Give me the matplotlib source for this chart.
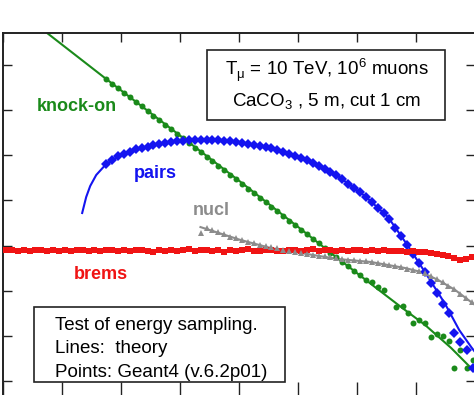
import matplotlib
matplotlib.use("Agg")
import matplotlib.pyplot as plt
from matplotlib.patches import Rectangle

plt.rcParams['font.family'] = ['Liberation Sans', 'DejaVu Sans']
plt.rcParams['mathtext.fontset'] = 'custom'
plt.rcParams['mathtext.rm'] = 'Liberation Sans'

# ---------------- data (arbitrary axis units, log-like scales) ----------------
# knock-on (green)
knock_line_x = [0.748, 1.750, 2.838, 4.027, 5.047, 5.624, 6.304, 6.746, 7.154, 7.596, 8.0]
knock_line_y = [7.709, 6.690, 5.600, 4.410, 3.366, 2.769, 2.082, 1.639, 1.241, 0.731, 0.199]
knock_pts_x = [1.75, 1.85, 1.95, 2.05, 2.15, 2.25, 2.35, 2.45, 2.55, 2.65,
               2.75, 2.85, 2.95, 3.05, 3.15, 3.25, 3.35, 3.45, 3.55, 3.65,
               3.75, 3.85, 3.95, 4.05, 4.15, 4.25, 4.35, 4.45, 4.55, 4.65,
               4.75, 4.85, 4.95, 5.05, 5.15, 5.25, 5.35, 5.45, 5.55, 5.65,
               5.75, 5.85, 5.95, 6.05, 6.15, 6.25, 6.35, 6.46,
               6.66, 6.78, 6.87, 6.95, 7.05, 7.15, 7.26, 7.36, 7.46, 7.56,
               7.65, 7.75, 7.87, 7.97]
knock_pts_y = [6.69, 6.59, 6.49, 6.39, 6.29, 6.19, 6.09, 5.98, 5.88, 5.78,
               5.68, 5.58, 5.48, 5.38, 5.28, 5.17, 5.07, 4.97, 4.87, 4.77,
               4.67, 4.57, 4.47, 4.36, 4.26, 4.16, 4.06, 3.96, 3.86, 3.76,
               3.65, 3.55, 3.45, 3.35, 3.25, 3.15, 3.05, 2.95, 2.84, 2.74,
               2.64, 2.54, 2.44, 2.34, 2.24, 2.19, 2.08, 2.02,
               1.64, 1.66, 1.51, 1.29, 1.35, 1.29, 0.98, 1.04, 1.00, 0.89,
               0.29, 0.69, 0.29, 0.47]

# pairs (blue)
pairs_line_x = [1.342, 1.410, 1.478, 1.580, 1.750, 1.988, 2.328, 2.838, 3.347, 3.976,
                4.537, 5.115, 5.675, 6.134, 6.525, 6.865, 7.205, 7.494, 7.732, 7.935, 8.0]
pairs_line_y = [3.722, 4.076, 4.320, 4.564, 4.808, 5.007, 5.162, 5.295, 5.339, 5.295,
                5.162, 4.918, 4.541, 4.098, 3.633, 2.991, 2.304, 1.706, 1.130, 0.753, 0.642]
pairs_pts_x = [1.75, 1.85, 1.95, 2.05, 2.15, 2.25, 2.35, 2.45, 2.55, 2.65,
               2.75, 2.85, 2.95, 3.05, 3.15, 3.25, 3.35, 3.45, 3.55, 3.65,
               3.75, 3.85, 3.95, 4.05, 4.15, 4.25, 4.35, 4.45, 4.55, 4.65,
               4.75, 4.85, 4.95, 5.05, 5.15, 5.25, 5.35, 5.45, 5.55, 5.65,
               5.75, 5.85, 5.95, 6.05, 6.15, 6.25, 6.35, 6.45, 6.55, 6.65,
               6.75, 6.85, 6.95, 7.05, 7.15, 7.26, 7.36, 7.46, 7.56, 7.65,
               7.75, 7.87, 7.97]
pairs_pts_y = [4.81, 4.90, 4.98, 5.03, 5.08, 5.13, 5.16, 5.19, 5.22, 5.25,
               5.27, 5.29, 5.31, 5.32, 5.33, 5.34, 5.34, 5.34, 5.34, 5.33,
               5.32, 5.31, 5.30, 5.28, 5.25, 5.23, 5.21, 5.18, 5.16, 5.11,
               5.07, 5.03, 4.99, 4.95, 4.89, 4.83, 4.76, 4.69, 4.62, 4.56,
               4.47, 4.37, 4.28, 4.18, 4.08, 3.96, 3.84, 3.72, 3.59, 3.40,
               3.21, 3.02, 2.82, 2.61, 2.41, 2.17, 1.95, 1.71, 1.51, 1.06,
               0.86, 0.69, 0.29]

# brems (red)
brems_line_x = [0.0, 6.0, 6.8, 7.3, 7.7, 8.0]
brems_line_y = [2.90, 2.90, 2.86, 2.80, 2.71, 2.74]
brems_pts_x = [0.05, 0.15, 0.25, 0.35, 0.45, 0.55, 0.65, 0.75, 0.85, 0.95,
               1.05, 1.15, 1.25, 1.35, 1.45, 1.55, 1.65, 1.75, 1.85, 1.95,
               2.05, 2.15, 2.25, 2.35, 2.45, 2.55, 2.65, 2.75, 2.85, 2.95,
               3.05, 3.15, 3.25, 3.35, 3.45, 3.55, 3.65, 3.75, 3.85, 3.95,
               4.05, 4.15, 4.25, 4.35, 4.45, 4.55, 4.65, 4.75, 4.85, 4.95,
               5.05, 5.15, 5.25, 5.35, 5.45, 5.55, 5.65, 5.75, 5.85, 5.95,
               6.05, 6.15, 6.25, 6.35, 6.45, 6.55, 6.65, 6.75, 6.85, 6.95,
               7.05, 7.15, 7.25, 7.35, 7.45, 7.55, 7.65, 7.75, 7.85, 7.95]
brems_pts_y = [2.90, 2.91, 2.88, 2.90, 2.89, 2.90, 2.91, 2.89, 2.90, 2.88,
               2.90, 2.89, 2.91, 2.90, 2.89, 2.90, 2.88, 2.90, 2.91, 2.89,
               2.90, 2.88, 2.90, 2.91, 2.89, 2.86, 2.90, 2.88, 2.91, 2.89,
               2.90, 2.93, 2.89, 2.90, 2.91, 2.88, 2.90, 2.86, 2.91, 2.89,
               2.90, 2.92, 2.89, 2.88, 2.90, 2.91, 2.89, 2.88, 2.90, 2.91,
               2.89, 2.90, 2.92, 2.89, 2.90, 2.91, 2.88, 2.90, 2.89, 2.91,
               2.90, 2.88, 2.90, 2.89, 2.91, 2.88, 2.87, 2.89, 2.86, 2.88,
               2.86, 2.85, 2.84, 2.82, 2.80, 2.76, 2.72, 2.68, 2.71, 2.74]

# nucl (gray)
nucl_line_x = [3.347, 4.027, 4.537, 5.047, 5.675, 6.236, 6.814, 7.086, 7.375, 7.664, 8.0]
nucl_line_y = [3.410, 3.124, 2.946, 2.836, 2.703, 2.636, 2.503, 2.415, 2.238, 2.016, 1.684]
nucl_pts_x = [3.35, 3.45, 3.55, 3.65, 3.75, 3.85, 3.95, 4.05, 4.15, 4.25,
              4.35, 4.45, 4.55, 4.65, 4.75, 4.85, 4.95, 5.05, 5.15, 5.25,
              5.35, 5.45, 5.55, 5.65, 5.75, 5.85, 5.95, 6.05, 6.15, 6.25,
              6.35, 6.45, 6.55, 6.65, 6.75, 6.85, 6.95, 7.05, 7.15, 7.25,
              7.35, 7.45, 7.55, 7.65, 7.75, 7.85, 7.95]
nucl_pts_y = [3.28, 3.38, 3.34, 3.30, 3.25, 3.20, 3.16, 3.12, 3.08, 3.05,
              3.02, 2.99, 2.96, 2.94, 2.91, 2.88, 2.86, 2.84, 2.82, 2.80,
              2.78, 2.76, 2.74, 2.72, 2.70, 2.69, 2.68, 2.66, 2.65, 2.63,
              2.61, 2.60, 2.58, 2.55, 2.52, 2.49, 2.46, 2.43, 2.39, 2.33,
              2.26, 2.19, 2.11, 2.03, 1.93, 1.84, 1.74]

x_ticks = [0, 1, 2, 3, 4, 5, 6, 7, 8]
y_ticks = [0, 1, 2, 3, 4, 5, 6, 7]

GREEN = '#1a8a1a'
BLUE = '#1414f0'
RED = '#f01414'
GRAY = '#8c8c8c'

# ---------------- figure ----------------
fig = plt.figure(figsize=(4.74, 3.95), dpi=100)
ax = fig.add_axes([3 / 474, -3 / 395, 472 / 474, 365 / 395])
ax.set_xlim(0, 8)
ax.set_ylim(-0.377, 7.71)

lw = 1.5
ax.plot(knock_line_x, knock_line_y, color=GREEN, lw=lw, zorder=2)
ax.plot(pairs_line_x, pairs_line_y, color=BLUE, lw=lw, zorder=2)
ax.plot(brems_line_x, brems_line_y, color=RED, lw=lw, zorder=2)
ax.plot(nucl_line_x, nucl_line_y, color=GRAY, lw=lw, zorder=2)

ax.plot(knock_pts_x, knock_pts_y, 'o', color=GREEN, ms=4.3, mew=0, zorder=3)
ax.plot(pairs_pts_x, pairs_pts_y, 'D', color=BLUE, ms=4.6, mew=0, zorder=3)
ax.plot(brems_pts_x, brems_pts_y, 's', color=RED, ms=3.9, mew=0, zorder=3)
ax.plot(nucl_pts_x, nucl_pts_y, '^', color=GRAY, ms=4.8, mew=0, zorder=3)

# curve labels
ax.text(0.578, 5.98, 'knock-on', color=GREEN, fontsize=13, fontweight='bold', va='baseline')
ax.text(2.209, 4.50, 'pairs', color=BLUE, fontsize=13, fontweight='bold', va='baseline')
ax.text(3.212, 3.68, 'nucl', color=GRAY, fontsize=13, fontweight='bold', va='baseline')
ax.text(1.206, 2.27, 'brems', color=RED, fontsize=13, fontweight='bold', va='baseline')

# top-right info box
ax.add_patch(Rectangle((3.458, 5.782), 4.034, 1.551, facecolor='white',
                       edgecolor='#222222', lw=1.2, zorder=4))
ax.text(5.49, 6.757, r'T$_{\mathregular{μ}}$ = 10 TeV, 10$^{\mathregular{6}}$ muons',
        fontsize=13.5, ha='center', va='baseline', zorder=5)
ax.text(5.49, 6.077, r'CaCO$_{\mathregular{3}}$ , 5 m, cut 1 cm',
        fontsize=13.5, ha='center', va='baseline', zorder=5)

# bottom-left box
ax.add_patch(Rectangle((0.525, -0.022), 4.255, 1.661, facecolor='white',
                       edgecolor='#222222', lw=1.2, zorder=4))
ax.text(0.881, 1.130, 'Test of energy sampling.', fontsize=13.5, va='baseline', zorder=5)
ax.text(0.881, 0.609, 'Lines:  theory', fontsize=13.5, va='baseline', zorder=5)
ax.text(0.881, 0.089, 'Points: Geant4 (v.6.2p01)', fontsize=13.5, va='baseline', zorder=5)

# axes styling
ax.set_xticks(x_ticks)
ax.set_yticks(y_ticks)
ax.set_xticklabels([])
ax.set_yticklabels([])
ax.tick_params(direction='in', top=True, right=True, bottom=True, left=True,
               length=6.5, width=1.0, color='#222222')
for t in ax.xaxis.get_major_ticks():
    t.tick1line.set_markersize(11.5)
for s in ax.spines.values():
    s.set_linewidth(1.4)
    s.set_color('#222222')

fig.savefig('out.png', dpi=100)
